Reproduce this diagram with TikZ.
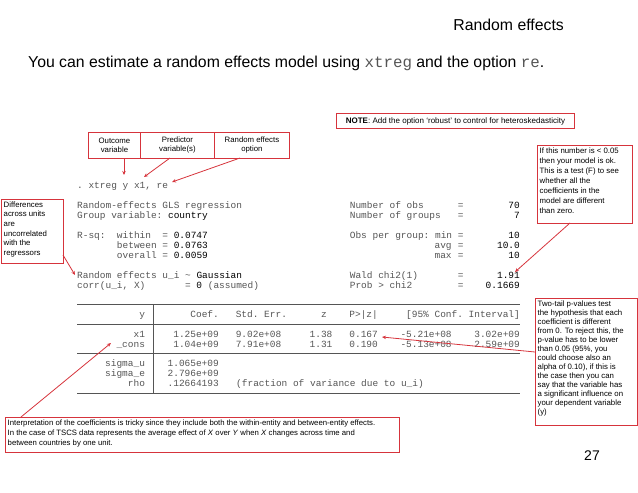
\documentclass[tikz,border=0pt]{standalone}
\usepackage{fontspec}
\setmainfont{Liberation Sans}
\setmonofont{Liberation Mono}
\usetikzlibrary{arrows.meta}
\definecolor{bred}{HTML}{D6343C}
\definecolor{stg}{HTML}{555555}
\newcommand\cw{5.68}
\newcommand\lt[3]{\node[st,anchor=base west] at ({77+#1*\cw},#2) {#3};}
\newcommand\rtt[3]{\node[st,anchor=base east] at ({77+#1*\cw},#2) {#3};}
\tikzset{
  st/.style={inner sep=0pt,font=\fontsize{9.47}{10}\ttfamily,text=stg},
  box/.style={draw=bred,line width=0.9pt,inner sep=2.5pt,font=\fontsize{7.8}{9}\selectfont,anchor=north west},
  btxt/.style={inner sep=2.5pt,anchor=north west,align=left},
  bline/.style={draw=bred,line width=0.9pt},
  rarr/.style={draw=bred,line width=0.8pt,-{Stealth[length=4pt,width=3.5pt]}},
  rule/.style={draw=stg,line width=0.6pt}
}
\begin{document}
\begin{tikzpicture}[x=1pt,y=-1pt]
\useasboundingbox (0,0) rectangle (638,493);
% titles
\node[anchor=base east,font=\fontsize{15.8}{18}\selectfont,inner sep=0] (title) at (564,30) {Random effects};
\node[anchor=base west,font=\fontsize{15.8}{18}\selectfont,inner sep=0] (sub) at (28,67) {You can estimate a random effects model using {\ttfamily\color{stg}xtreg} and the option {\ttfamily\color{stg}re}.};
% note
\node[box,minimum width=238pt,minimum height=15pt,inner sep=1pt,font=\fontsize{8}{9}\selectfont] (note) at (336,113) {\textbf{NOTE}: Add the option `robust' to control for heteroskedasticity};
% three boxes
\node[box,minimum width=52pt,minimum height=26pt,align=center,inner sep=1pt] (outc) at (88,132) {Outcome\\variable};
\node[box,minimum width=74pt,minimum height=26pt,align=center,inner sep=1pt] (pred) at (140,132) {Predictor\\variable(s)};
\node[box,minimum width=75pt,minimum height=26pt,align=center,inner sep=1pt] (reo) at (214,132) {Random effects\\option};
% Stata output
\lt{0}{188}{.}\lt{2}{188}{xtreg y x1, re}
\coordinate (tY) at (124,175);
\coordinate (tX) at (144,177);
\coordinate (tRE) at (172,182);
\lt{0}{208}{Random-effects GLS regression}
\lt{0}{218}{Group variable: \textcolor{black}{country}}
\lt{0}{238}{R-sq:}\lt{7}{238}{within}\lt{15}{238}{= \textcolor{black}{0.0747}}
\lt{7}{248}{between = \textcolor{black}{0.0763}}
\lt{7}{258}{overall = \textcolor{black}{0.0059}}
\lt{0}{278}{Random effects u\_i \textasciitilde{} \textcolor{black}{Gaussian}}
\lt{0}{288}{corr(u\_i, X)}\lt{19}{288}{= \textcolor{black}{0} (assumed)}
\lt{48}{208}{Number of obs}\lt{67}{208}{=}\rtt{78}{208}{\textcolor{black}{70}}
\lt{48}{218}{Number of groups}\lt{67}{218}{=}\rtt{78}{218}{\textcolor{black}{7}}
\lt{48}{238}{Obs per group: min}\lt{67}{238}{=}\rtt{78}{238}{\textcolor{black}{10}}
\rtt{66}{248}{avg}\lt{67}{248}{=}\rtt{78}{248}{\textcolor{black}{10.0}}
\rtt{66}{258}{max}\lt{67}{258}{=}\rtt{78}{258}{\textcolor{black}{10}}
\lt{48}{278}{Wald chi2(1)}\lt{67}{278}{=}\rtt{78}{278}{\textcolor{black}{1.91}}
\lt{48}{288}{Prob > chi2}\lt{67}{288}{=}\rtt{78}{288}{\textcolor{black}{0.1669}}
\coordinate (tF) at (515,272);
\coordinate (tRE2) at (75,275);
% table
\draw[rule] (77,304) -- (520,304);
\draw[rule] (77,324) -- (520,324);
\draw[rule] (77,353.5) -- (520,353.5);
\draw[rule] (77,393) -- (520,393);
\draw[rule] ({77+13.5*\cw},304) -- ({77+13.5*\cw},393);
\rtt{12}{317}{y}\rtt{25}{317}{Coef.}\rtt{37}{317}{Std. Err.}\rtt{44}{317}{z}\rtt{53}{317}{P>|z|}\rtt{78}{317}{[95\% Conf. Interval]}
\rtt{12}{337}{x1}\rtt{25}{337}{1.25e+09}\rtt{36}{337}{9.02e+08}\rtt{45}{337}{1.38}\rtt{53}{337}{0.167}\rtt{66}{337}{-5.21e+08}\rtt{78}{337}{3.02e+09}
\rtt{12}{347}{\_cons}\rtt{25}{347}{1.04e+09}\rtt{36}{347}{7.91e+08}\rtt{45}{347}{1.31}\rtt{53}{347}{0.190}\rtt{66}{347}{-5.13e+08}\rtt{78}{347}{2.59e+09}
\rtt{12}{366}{sigma\_u}\rtt{25}{366}{1.065e+09}
\rtt{12}{376}{sigma\_e}\rtt{25}{376}{2.796e+09}
\rtt{12}{386}{rho}\rtt{25}{386}{.12664193}\lt{28}{386}{(fraction of variance due to u\_i)}
\coordinate (tP) at (382,337);
\coordinate (tC) at (111,343);
% side boxes
\node[btxt,font=\fontsize{7.8}{9.6}\selectfont] (diff) at (1,199) {Differences\\across units\\are\\uncorrelated\\with the\\regressors};
\draw[bline] (diff.north west) rectangle (63,263);
\node[btxt,font=\fontsize{7.8}{10}\selectfont] (ftest) at (537,145) {If this number is < 0.05\\then your model is ok.\\This is a test (F) to see\\whether all the\\coefficients in the\\model are different\\than zero.};
\draw[bline] (ftest.north west) rectangle (632,223);
\node[btxt,font=\fontsize{7.8}{9}\selectfont] (ptest) at (535,298) {Two-tail p-values test\\the hypothesis that each\\coefficient is different\\from 0. To reject this, the\\p-value has to be lower\\than 0.05 (95\%, you\\could choose also an\\alpha of 0.10), if this is\\the case then you can\\say that the variable has\\a significant influence on\\your dependent variable\\(y)};
\draw[bline] (ptest.north west) rectangle (637,425);
\node[btxt,font=\fontsize{7.75}{10}\selectfont] (interp) at (5,417) {Interpretation of the coefficients is tricky since they include both the within-entity and between-entity effects.\\In the case of TSCS data represents the average effect of \textit{X} over \textit{Y} when \textit{X} changes across time and\\between countries by one unit.};
\draw[bline] (interp.north west) rectangle (399,452);
% arrows
\draw[rarr] (outc.south -| tY) -- (tY);
\draw[rarr] (170,158) -- (tX);
\draw[rarr] (240,158) -- (tRE);
\draw[rarr] (63,255) -- (tRE2);
\draw[rarr] (570,223) -- (tF);
\draw[rarr] (535,352) -- (tP);
\draw[rarr] (21,417) -- (tC);
\node[anchor=base,font=\fontsize{14}{16}\selectfont] (pg) at (592,460) {27};
\end{tikzpicture}
\end{document}
